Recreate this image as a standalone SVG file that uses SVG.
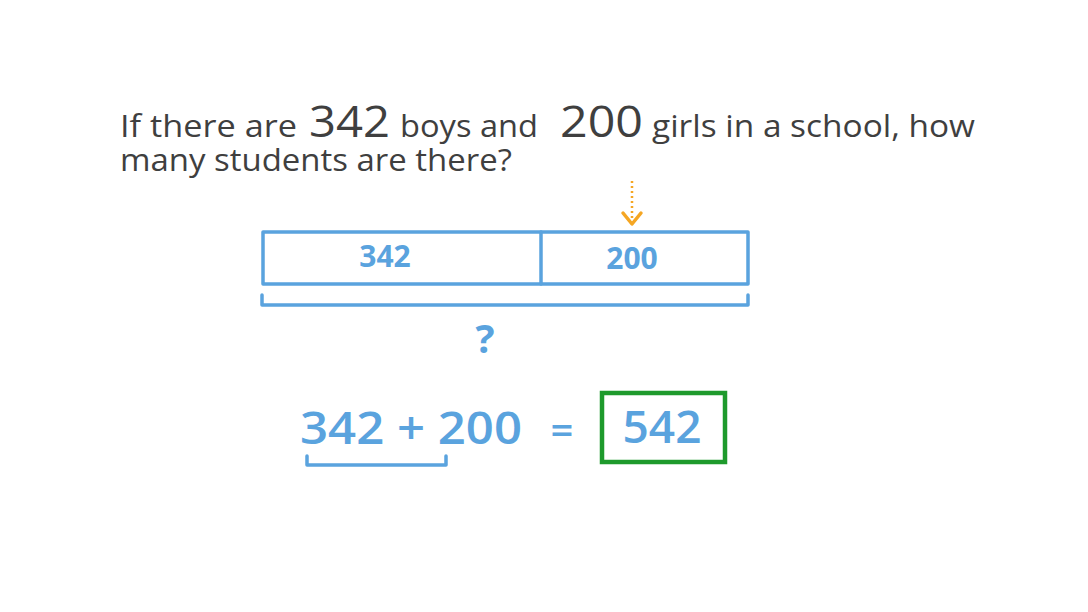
<svg xmlns="http://www.w3.org/2000/svg" width="1088" height="612" viewBox="0 0 1088 612">
<style>
.q{font-family:"Open Sans","Liberation Sans",sans-serif;fill:#3f3f3f}
.b{font-family:"Open Sans","Liberation Sans",sans-serif;fill:#5aa3de}
.bl{fill:none;stroke:#5aa3de;stroke-width:3.5;stroke-linecap:round;stroke-linejoin:round}
</style>
<rect width="1088" height="612" fill="#ffffff"/>
<g id="question">
<text class="q" y="137" font-size="31"><tspan x="120" textLength="177" lengthAdjust="spacingAndGlyphs">If there are</tspan><tspan x="309" font-size="44" textLength="81" lengthAdjust="spacingAndGlyphs">342</tspan><tspan x="400" textLength="138" lengthAdjust="spacingAndGlyphs">boys and</tspan><tspan x="560" font-size="44" textLength="83" lengthAdjust="spacingAndGlyphs">200</tspan><tspan x="652" textLength="323" lengthAdjust="spacingAndGlyphs">girls in a school, how</tspan></text>
<text class="q" x="120" y="171" font-size="31" textLength="392" lengthAdjust="spacingAndGlyphs">many students are there?</text>
</g>
<g id="bar-model">
<rect class="bl" x="263" y="232" width="485" height="52"/>
<line class="bl" x1="541" y1="232" x2="541" y2="284"/>
<text class="b" x="385" y="267" font-size="30" text-anchor="middle" font-weight="700">342</text>
<text class="b" x="632" y="269" font-size="30" text-anchor="middle" font-weight="700">200</text>
</g>
<g id="connectors">
<line x1="632" y1="181" x2="632" y2="220" stroke="#f5a623" stroke-width="2.5" stroke-dasharray="2,3"/>
<polyline points="623,213 632,224 641,213" fill="none" stroke="#f5a623" stroke-width="3.5" stroke-linecap="round" stroke-linejoin="round"/>
<polyline class="bl" points="262,295 262,305 748,305 748,295"/>
<polyline class="bl" points="307,456 307,465 446,465 446,456"/>
</g>
<g id="total">
<text class="b" x="485" y="353" font-size="40" text-anchor="middle" font-weight="700">?</text>
</g>
<g id="equation">
<text class="b" x="300" y="444" font-size="46" textLength="222" lengthAdjust="spacingAndGlyphs" font-weight="600">342 + 200</text>
<text class="b" x="562" y="444" font-size="40" text-anchor="middle" font-weight="600">=</text>
</g>
<g id="answer">
<rect x="602" y="393" width="123" height="69" fill="none" stroke="#1e9a2c" stroke-width="4.5"/>
<text class="b" x="662" y="443" font-size="46" text-anchor="middle" font-weight="600">542</text>
</g>
</svg>
